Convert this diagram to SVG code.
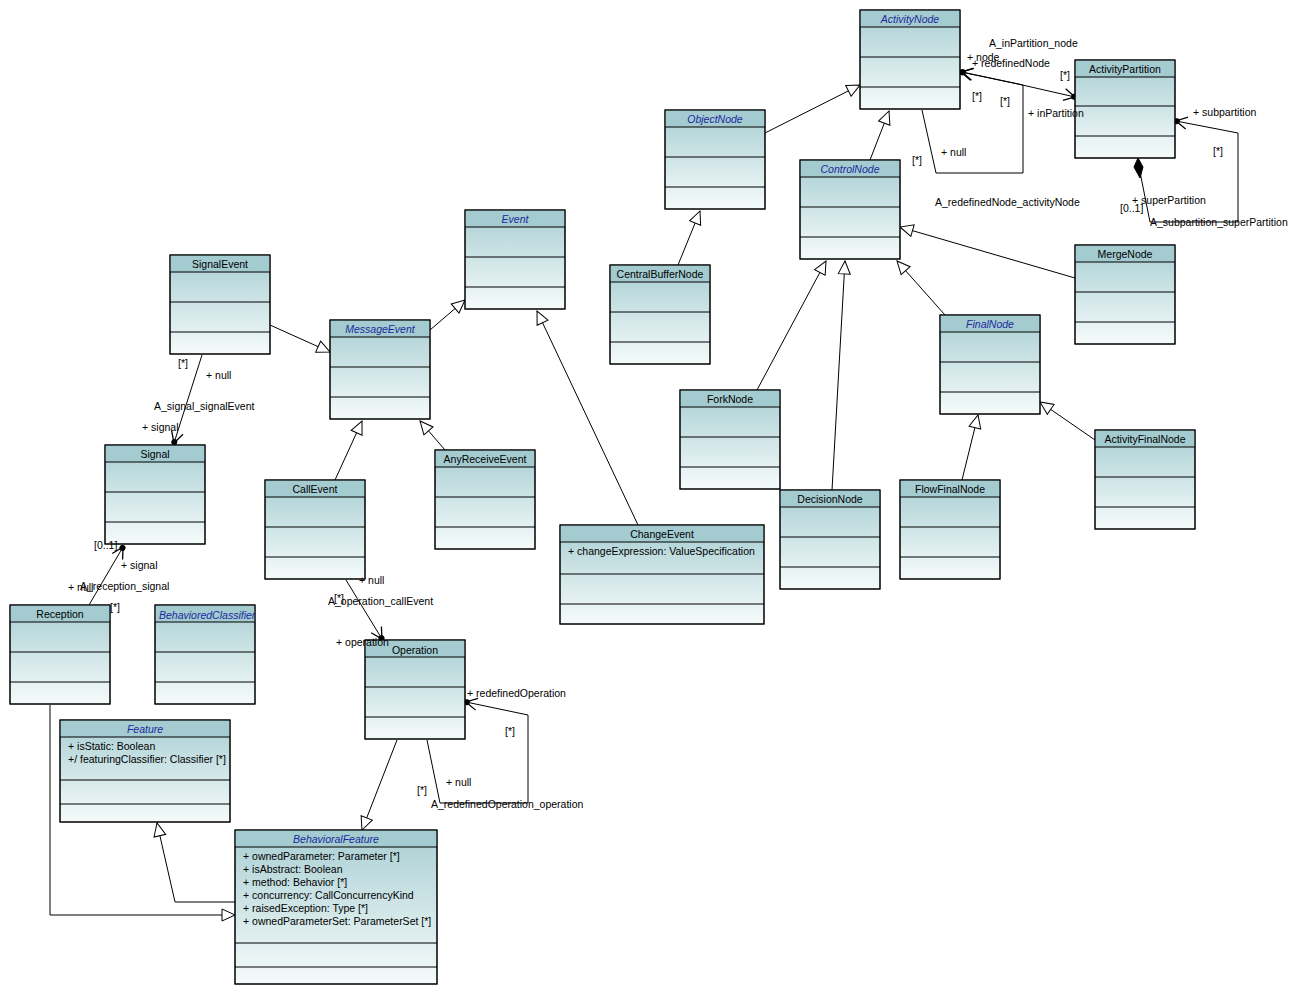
<svg xmlns="http://www.w3.org/2000/svg" width="1310" height="995" viewBox="0 0 1310 995">
<style>
text{font-family:"Liberation Sans",Arial,sans-serif;font-size:10.5px;fill:#000}
.h{fill:#a3cbd0;stroke:none}
.b{fill:url(#g);stroke:#000;stroke-width:1}
.s{stroke:#000;stroke-width:1}
.t{text-anchor:middle}
.i{font-style:italic;fill:#1c2a9c}
.c line,.c polyline{fill:none;stroke:#000;stroke-width:1}
.gen{marker-end:url(#tri)}
.asc{marker-end:url(#arr)}
</style>
<defs>
<linearGradient id="g" x1="0" y1="0" x2="0" y2="1"><stop offset="0" stop-color="#a9cfd3"/><stop offset="1" stop-color="#f6fbfb"/></linearGradient>
<marker id="tri" markerWidth="16" markerHeight="14" refX="14" refY="7" orient="auto" markerUnits="userSpaceOnUse"><path d="M1,1 L14,7 L1,13 Z" fill="#fff" stroke="#000"/></marker>
<marker id="arr" markerWidth="16" markerHeight="16" refX="13" refY="8" orient="auto" markerUnits="userSpaceOnUse"><path d="M2,2 L13,8 L2,14" fill="none" stroke="#000" stroke-width="1.3"/><circle cx="12" cy="8" r="3" fill="#000"/></marker>
</defs>

<g id="connectors" class="c">
<line class="gen" x1="765" y1="133" x2="860" y2="85"/>
<line class="gen" x1="870" y1="160" x2="889" y2="111"/>
<line class="gen" x1="678" y1="265" x2="700" y2="211"/>
<line class="gen" x1="430" y1="330" x2="465" y2="300"/>
<line class="gen" x1="270" y1="325" x2="330" y2="352"/>
<line class="gen" x1="335" y1="480" x2="362" y2="421"/>
<line class="gen" x1="445" y1="450" x2="420" y2="421"/>
<line class="gen" x1="638" y1="525" x2="537" y2="311"/>
<line class="gen" x1="1075" y1="278" x2="900" y2="227"/>
<line class="gen" x1="945" y1="315" x2="897" y2="261"/>
<line class="gen" x1="757" y1="390" x2="826" y2="261"/>
<line class="gen" x1="832" y1="490" x2="845" y2="261"/>
<line class="gen" x1="962" y1="480" x2="978" y2="415"/>
<line class="gen" x1="1095" y1="440" x2="1040" y2="402"/>
<line class="gen" x1="397" y1="740" x2="362" y2="830"/>
<polyline class="gen" points="235,902 175,902 157,823"/>
<polyline class="gen" points="50,705 50,915 235,915"/>
<line class="asc" x1="1018" y1="84" x2="1075" y2="97"/>
<line class="asc" x1="1018" y1="84" x2="961" y2="72"/>
<polyline class="asc" points="922,110 936,173 1023,173 1023,85 962,72"/>
<polyline class="asc" points="1150,222 1238,222 1238,133 1176,121"/>
<line x1="1150" y1="222" x2="1138" y2="162"/>
<path d="M1138,158 L1134,167 L1140,178 L1143,167 Z" style="fill:#000;stroke:#000"/>
<line class="asc" x1="202" y1="355" x2="174" y2="443"/>
<line class="asc" x1="89" y1="605" x2="123" y2="547"/>
<line class="asc" x1="346" y1="580" x2="382" y2="639"/>
<polyline class="asc" points="427,740 440,803 528,803 528,715 466,702"/>
</g>

<g id="ActivityNode"><rect class="b" x="860" y="10" width="100" height="99"/><rect class="h" x="860.5" y="10.5" width="99" height="16.5"/><rect x="860" y="10" width="100" height="99" fill="none" stroke="#000"/><line class="s" x1="860" y1="27" x2="960" y2="27"/><line class="s" x1="860" y1="57" x2="960" y2="57"/><line class="s" x1="860" y1="87" x2="960" y2="87"/><text class="t i" x="910" y="23">ActivityNode</text></g>
<g id="ActivityPartition"><rect class="b" x="1075" y="60" width="100" height="98"/><rect class="h" x="1075.5" y="60.5" width="99" height="16.5"/><rect x="1075" y="60" width="100" height="98" fill="none" stroke="#000"/><line class="s" x1="1075" y1="77" x2="1175" y2="77"/><line class="s" x1="1075" y1="106" x2="1175" y2="106"/><line class="s" x1="1075" y1="136" x2="1175" y2="136"/><text class="t" x="1125" y="73">ActivityPartition</text></g>
<g id="ObjectNode"><rect class="b" x="665" y="110" width="100" height="99"/><rect class="h" x="665.5" y="110.5" width="99" height="16.5"/><rect x="665" y="110" width="100" height="99" fill="none" stroke="#000"/><line class="s" x1="665" y1="127" x2="765" y2="127"/><line class="s" x1="665" y1="157" x2="765" y2="157"/><line class="s" x1="665" y1="187" x2="765" y2="187"/><text class="t i" x="715" y="123">ObjectNode</text></g>
<g id="ControlNode"><rect class="b" x="800" y="160" width="100" height="99"/><rect class="h" x="800.5" y="160.5" width="99" height="16.5"/><rect x="800" y="160" width="100" height="99" fill="none" stroke="#000"/><line class="s" x1="800" y1="177" x2="900" y2="177"/><line class="s" x1="800" y1="207" x2="900" y2="207"/><line class="s" x1="800" y1="237" x2="900" y2="237"/><text class="t i" x="850" y="173">ControlNode</text></g>
<g id="Event"><rect class="b" x="465" y="210" width="100" height="99"/><rect class="h" x="465.5" y="210.5" width="99" height="16.5"/><rect x="465" y="210" width="100" height="99" fill="none" stroke="#000"/><line class="s" x1="465" y1="227" x2="565" y2="227"/><line class="s" x1="465" y1="257" x2="565" y2="257"/><line class="s" x1="465" y1="287" x2="565" y2="287"/><text class="t i" x="515" y="223">Event</text></g>
<g id="CentralBufferNode"><rect class="b" x="610" y="265" width="100" height="99"/><rect class="h" x="610.5" y="265.5" width="99" height="16.5"/><rect x="610" y="265" width="100" height="99" fill="none" stroke="#000"/><line class="s" x1="610" y1="282" x2="710" y2="282"/><line class="s" x1="610" y1="312" x2="710" y2="312"/><line class="s" x1="610" y1="342" x2="710" y2="342"/><text class="t" x="660" y="278">CentralBufferNode</text></g>
<g id="SignalEvent"><rect class="b" x="170" y="255" width="100" height="99"/><rect class="h" x="170.5" y="255.5" width="99" height="16.5"/><rect x="170" y="255" width="100" height="99" fill="none" stroke="#000"/><line class="s" x1="170" y1="272" x2="270" y2="272"/><line class="s" x1="170" y1="302" x2="270" y2="302"/><line class="s" x1="170" y1="332" x2="270" y2="332"/><text class="t" x="220" y="268">SignalEvent</text></g>
<g id="MessageEvent"><rect class="b" x="330" y="320" width="100" height="99"/><rect class="h" x="330.5" y="320.5" width="99" height="16.5"/><rect x="330" y="320" width="100" height="99" fill="none" stroke="#000"/><line class="s" x1="330" y1="337" x2="430" y2="337"/><line class="s" x1="330" y1="367" x2="430" y2="367"/><line class="s" x1="330" y1="397" x2="430" y2="397"/><text class="t i" x="380" y="333">MessageEvent</text></g>
<g id="MergeNode"><rect class="b" x="1075" y="245" width="100" height="99"/><rect class="h" x="1075.5" y="245.5" width="99" height="16.5"/><rect x="1075" y="245" width="100" height="99" fill="none" stroke="#000"/><line class="s" x1="1075" y1="262" x2="1175" y2="262"/><line class="s" x1="1075" y1="292" x2="1175" y2="292"/><line class="s" x1="1075" y1="322" x2="1175" y2="322"/><text class="t" x="1125" y="258">MergeNode</text></g>
<g id="FinalNode"><rect class="b" x="940" y="315" width="100" height="99"/><rect class="h" x="940.5" y="315.5" width="99" height="16.5"/><rect x="940" y="315" width="100" height="99" fill="none" stroke="#000"/><line class="s" x1="940" y1="332" x2="1040" y2="332"/><line class="s" x1="940" y1="362" x2="1040" y2="362"/><line class="s" x1="940" y1="392" x2="1040" y2="392"/><text class="t i" x="990" y="328">FinalNode</text></g>
<g id="ForkNode"><rect class="b" x="680" y="390" width="100" height="99"/><rect class="h" x="680.5" y="390.5" width="99" height="16.5"/><rect x="680" y="390" width="100" height="99" fill="none" stroke="#000"/><line class="s" x1="680" y1="407" x2="780" y2="407"/><line class="s" x1="680" y1="437" x2="780" y2="437"/><line class="s" x1="680" y1="467" x2="780" y2="467"/><text class="t" x="730" y="403">ForkNode</text></g>
<g id="Signal"><rect class="b" x="105" y="445" width="100" height="99"/><rect class="h" x="105.5" y="445.5" width="99" height="16.5"/><rect x="105" y="445" width="100" height="99" fill="none" stroke="#000"/><line class="s" x1="105" y1="462" x2="205" y2="462"/><line class="s" x1="105" y1="492" x2="205" y2="492"/><line class="s" x1="105" y1="522" x2="205" y2="522"/><text class="t" x="155" y="458">Signal</text></g>
<g id="AnyReceiveEvent"><rect class="b" x="435" y="450" width="100" height="99"/><rect class="h" x="435.5" y="450.5" width="99" height="16.5"/><rect x="435" y="450" width="100" height="99" fill="none" stroke="#000"/><line class="s" x1="435" y1="467" x2="535" y2="467"/><line class="s" x1="435" y1="497" x2="535" y2="497"/><line class="s" x1="435" y1="527" x2="535" y2="527"/><text class="t" x="485" y="463">AnyReceiveEvent</text></g>
<g id="CallEvent"><rect class="b" x="265" y="480" width="100" height="99"/><rect class="h" x="265.5" y="480.5" width="99" height="16.5"/><rect x="265" y="480" width="100" height="99" fill="none" stroke="#000"/><line class="s" x1="265" y1="497" x2="365" y2="497"/><line class="s" x1="265" y1="527" x2="365" y2="527"/><line class="s" x1="265" y1="557" x2="365" y2="557"/><text class="t" x="315" y="493">CallEvent</text></g>
<g id="ActivityFinalNode"><rect class="b" x="1095" y="430" width="100" height="99"/><rect class="h" x="1095.5" y="430.5" width="99" height="16.5"/><rect x="1095" y="430" width="100" height="99" fill="none" stroke="#000"/><line class="s" x1="1095" y1="447" x2="1195" y2="447"/><line class="s" x1="1095" y1="477" x2="1195" y2="477"/><line class="s" x1="1095" y1="507" x2="1195" y2="507"/><text class="t" x="1145" y="443">ActivityFinalNode</text></g>
<g id="DecisionNode"><rect class="b" x="780" y="490" width="100" height="99"/><rect class="h" x="780.5" y="490.5" width="99" height="16.5"/><rect x="780" y="490" width="100" height="99" fill="none" stroke="#000"/><line class="s" x1="780" y1="507" x2="880" y2="507"/><line class="s" x1="780" y1="537" x2="880" y2="537"/><line class="s" x1="780" y1="567" x2="880" y2="567"/><text class="t" x="830" y="503">DecisionNode</text></g>
<g id="FlowFinalNode"><rect class="b" x="900" y="480" width="100" height="99"/><rect class="h" x="900.5" y="480.5" width="99" height="16.5"/><rect x="900" y="480" width="100" height="99" fill="none" stroke="#000"/><line class="s" x1="900" y1="497" x2="1000" y2="497"/><line class="s" x1="900" y1="527" x2="1000" y2="527"/><line class="s" x1="900" y1="557" x2="1000" y2="557"/><text class="t" x="950" y="493">FlowFinalNode</text></g>
<g id="ChangeEvent"><rect class="b" x="560" y="525" width="204" height="99"/><rect class="h" x="560.5" y="525.5" width="203" height="16.5"/><rect x="560" y="525" width="204" height="99" fill="none" stroke="#000"/><line class="s" x1="560" y1="542" x2="764" y2="542"/><line class="s" x1="560" y1="574" x2="764" y2="574"/><line class="s" x1="560" y1="604" x2="764" y2="604"/><text class="t" x="662" y="538">ChangeEvent</text><text x="568" y="555">+ changeExpression: ValueSpecification</text></g>
<g id="Reception"><rect class="b" x="10" y="605" width="100" height="99"/><rect class="h" x="10.5" y="605.5" width="99" height="16.5"/><rect x="10" y="605" width="100" height="99" fill="none" stroke="#000"/><line class="s" x1="10" y1="622" x2="110" y2="622"/><line class="s" x1="10" y1="652" x2="110" y2="652"/><line class="s" x1="10" y1="682" x2="110" y2="682"/><text class="t" x="60" y="618">Reception</text></g>
<g id="BehavioredClassifier"><rect class="b" x="155" y="605" width="100" height="99"/><rect class="h" x="155.5" y="605.5" width="99" height="16.5"/><rect x="155" y="605" width="100" height="99" fill="none" stroke="#000"/><line class="s" x1="155" y1="622" x2="255" y2="622"/><line class="s" x1="155" y1="652" x2="255" y2="652"/><line class="s" x1="155" y1="682" x2="255" y2="682"/><text class="i" x="159" y="619">BehavioredClassifier</text></g>
<g id="Operation"><rect class="b" x="365" y="640" width="100" height="99"/><rect class="h" x="365.5" y="640.5" width="99" height="16.5"/><rect x="365" y="640" width="100" height="99" fill="none" stroke="#000"/><line class="s" x1="365" y1="657" x2="465" y2="657"/><line class="s" x1="365" y1="687" x2="465" y2="687"/><line class="s" x1="365" y1="717" x2="465" y2="717"/><text class="t" x="415" y="654">Operation</text></g>
<g id="Feature"><rect class="b" x="60" y="720" width="170" height="102"/><rect class="h" x="60.5" y="720.5" width="169" height="16.5"/><rect x="60" y="720" width="170" height="102" fill="none" stroke="#000"/><line class="s" x1="60" y1="737" x2="230" y2="737"/><line class="s" x1="60" y1="780" x2="230" y2="780"/><line class="s" x1="60" y1="804" x2="230" y2="804"/><text class="t i" x="145" y="733">Feature</text><text x="68" y="750">+ isStatic: Boolean</text><text x="68" y="763">+/ featuringClassifier: Classifier [*]</text></g>
<g id="BehavioralFeature"><rect class="b" x="235" y="830" width="202" height="154"/><rect class="h" x="235.5" y="830.5" width="201" height="16.5"/><rect x="235" y="830" width="202" height="154" fill="none" stroke="#000"/><line class="s" x1="235" y1="847" x2="437" y2="847"/><line class="s" x1="235" y1="943" x2="437" y2="943"/><line class="s" x1="235" y1="967" x2="437" y2="967"/><text class="t i" x="336" y="843">BehavioralFeature</text>
<text x="243" y="860">+ ownedParameter: Parameter [*]</text><text x="243" y="873">+ isAbstract: Boolean</text><text x="243" y="886">+ method: Behavior [*]</text><text x="243" y="899">+ concurrency: CallConcurrencyKind</text><text x="243" y="912">+ raisedException: Type [*]</text><text x="243" y="925">+ ownedParameterSet: ParameterSet [*]</text></g>

<g id="labels">
<text x="989" y="47">A_inPartition_node</text><text x="967" y="61">+ node</text><text x="972" y="67">+ redefinedNode</text><text x="1060" y="79">[*]</text><text x="972" y="100">[*]</text><text x="1000" y="105">[*]</text><text x="1028" y="117">+ inPartition</text>
<text x="941" y="156">+ null</text><text x="912" y="164">[*]</text><text x="935" y="206">A_redefinedNode_activityNode</text>
<text x="1193" y="116">+ subpartition</text><text x="1213" y="155">[*]</text><text x="1132" y="204">+ superPartition</text><text x="1120" y="212">[0..1]</text><text x="1150" y="226">A_subpartition_superPartition</text>
<text x="178" y="367">[*]</text><text x="206" y="379">+ null</text><text x="154" y="410">A_signal_signalEvent</text><text x="142" y="431">+ signal</text>
<text x="94" y="549">[0..1]</text><text x="121" y="569">+ signal</text><text x="68" y="591">+ null</text><text x="80" y="590">A_reception_signal</text><text x="110" y="611">[*]</text>
<text x="359" y="584">+ null</text><text x="328" y="605">A_operation_callEvent</text><text x="334" y="602">[*]</text><text x="336" y="646">+ operation</text>
<text x="467" y="697">+ redefinedOperation</text><text x="505" y="735">[*]</text><text x="446" y="786">+ null</text><text x="417" y="794">[*]</text><text x="431" y="808">A_redefinedOperation_operation</text>
</g>
</svg>
